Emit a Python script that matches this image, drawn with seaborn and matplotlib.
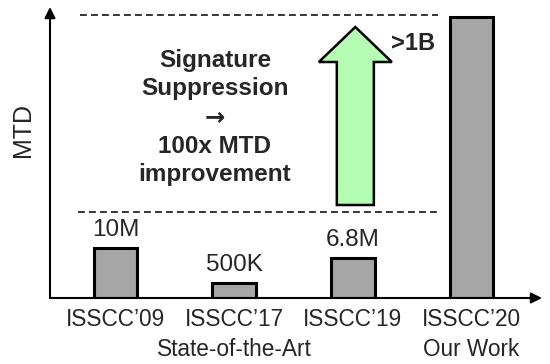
import matplotlib
matplotlib.use("Agg")
import matplotlib.pyplot as plt
import seaborn as sns
import pandas as pd
from matplotlib.patches import Polygon

# ---- data (schematic bar heights, arbitrary MTD axis units) ----
categories = ["ISSCC\u201909", "ISSCC\u201917\nState-of-the-Art", "ISSCC\u201919", "ISSCC\u201920\nOur Work"]
bar_heights = [50, 15.5, 40, 281]
value_labels = ["10M", "500K", "6.8M", ""]
top_label = ">1B"
annotation_lines = ["Signature", "Suppression", "\u2192", "100x MTD", "improvement"]

sns.set_style("white")
plt.rcParams["font.family"] = ["Liberation Sans", "DejaVu Sans"]

fig = plt.figure(figsize=(5.5, 3.64), dpi=100)
ax = fig.add_axes([50 / 550, 66 / 364, 492 / 550, 291 / 364])

df = pd.DataFrame({"cat": categories, "h": bar_heights})
sns.barplot(data=df, x="cat", y="h", color="#a6a6a6", saturation=1,
            edgecolor="black", linewidth=2.2, width=0.37, ax=ax)

ax.set_xlim(-0.552, 3.594)
ax.set_ylim(0, 291)

for s in ax.spines.values():
    s.set_visible(False)
ax.set_yticks([])
ax.set_xlabel("")
ax.set_ylabel("")
ax.tick_params(axis="x", length=0, pad=7, labelsize=16.3)
for t in ax.get_xticklabels():
    t.set_linespacing(1.42)
    t.set_va("top")

# axes with arrows
ax.annotate("", xy=(0, 1), xytext=(0, 0), xycoords="axes fraction",
            arrowprops=dict(arrowstyle="-|>", lw=1.5, color="black",
                            mutation_scale=16, shrinkA=0, shrinkB=0))
ax.annotate("", xy=(1, 0), xytext=(0, 0), xycoords="axes fraction",
            arrowprops=dict(arrowstyle="-|>", lw=1.5, color="black",
                            mutation_scale=16, shrinkA=0, shrinkB=0))

# value labels
ax.bar_label(ax.containers[0], labels=value_labels, padding=5, fontsize=17.5)

# dashed reference lines
ax.plot([-0.299, 2.718], [283, 283], color="black", lw=1.1, ls=(0, (4.5, 2.7)))
ax.plot([-0.316, 2.718], [86, 86], color="black", lw=1.1, ls=(0, (4.5, 2.7)))

# green improvement arrow
cx, sw, hw = 2.021, 0.156, 0.3076
tip, hb, bot = 271, 236, 93
arrow = Polygon([(cx - sw, bot), (cx - sw, hb), (cx - hw, hb), (cx, tip),
                 (cx + hw, hb), (cx + sw, hb), (cx + sw, bot)], closed=True,
                facecolor="#b4fcb4", edgecolor="black", lw=1.8, zorder=3)
ax.add_patch(arrow)

ax.text(2.511, 248, top_label, ha="center", va="baseline", fontsize=17,
        fontweight="bold")

# annotation text block
baselines = [231, 203, 174, 145, 117]
for line, yb in zip(annotation_lines, baselines):
    fam = ["DejaVu Sans"] if line == "\u2192" else ["Liberation Sans", "DejaVu Sans"]
    ax.text(0.838, yb, line, ha="center", va="baseline", fontsize=17.5,
            fontweight="bold", family=fam)

fig.text(22.5 / 550, 1 - 130 / 364, "MTD", rotation=90, ha="center",
         va="center", fontsize=18)

fig.savefig("out.png", dpi=100)
